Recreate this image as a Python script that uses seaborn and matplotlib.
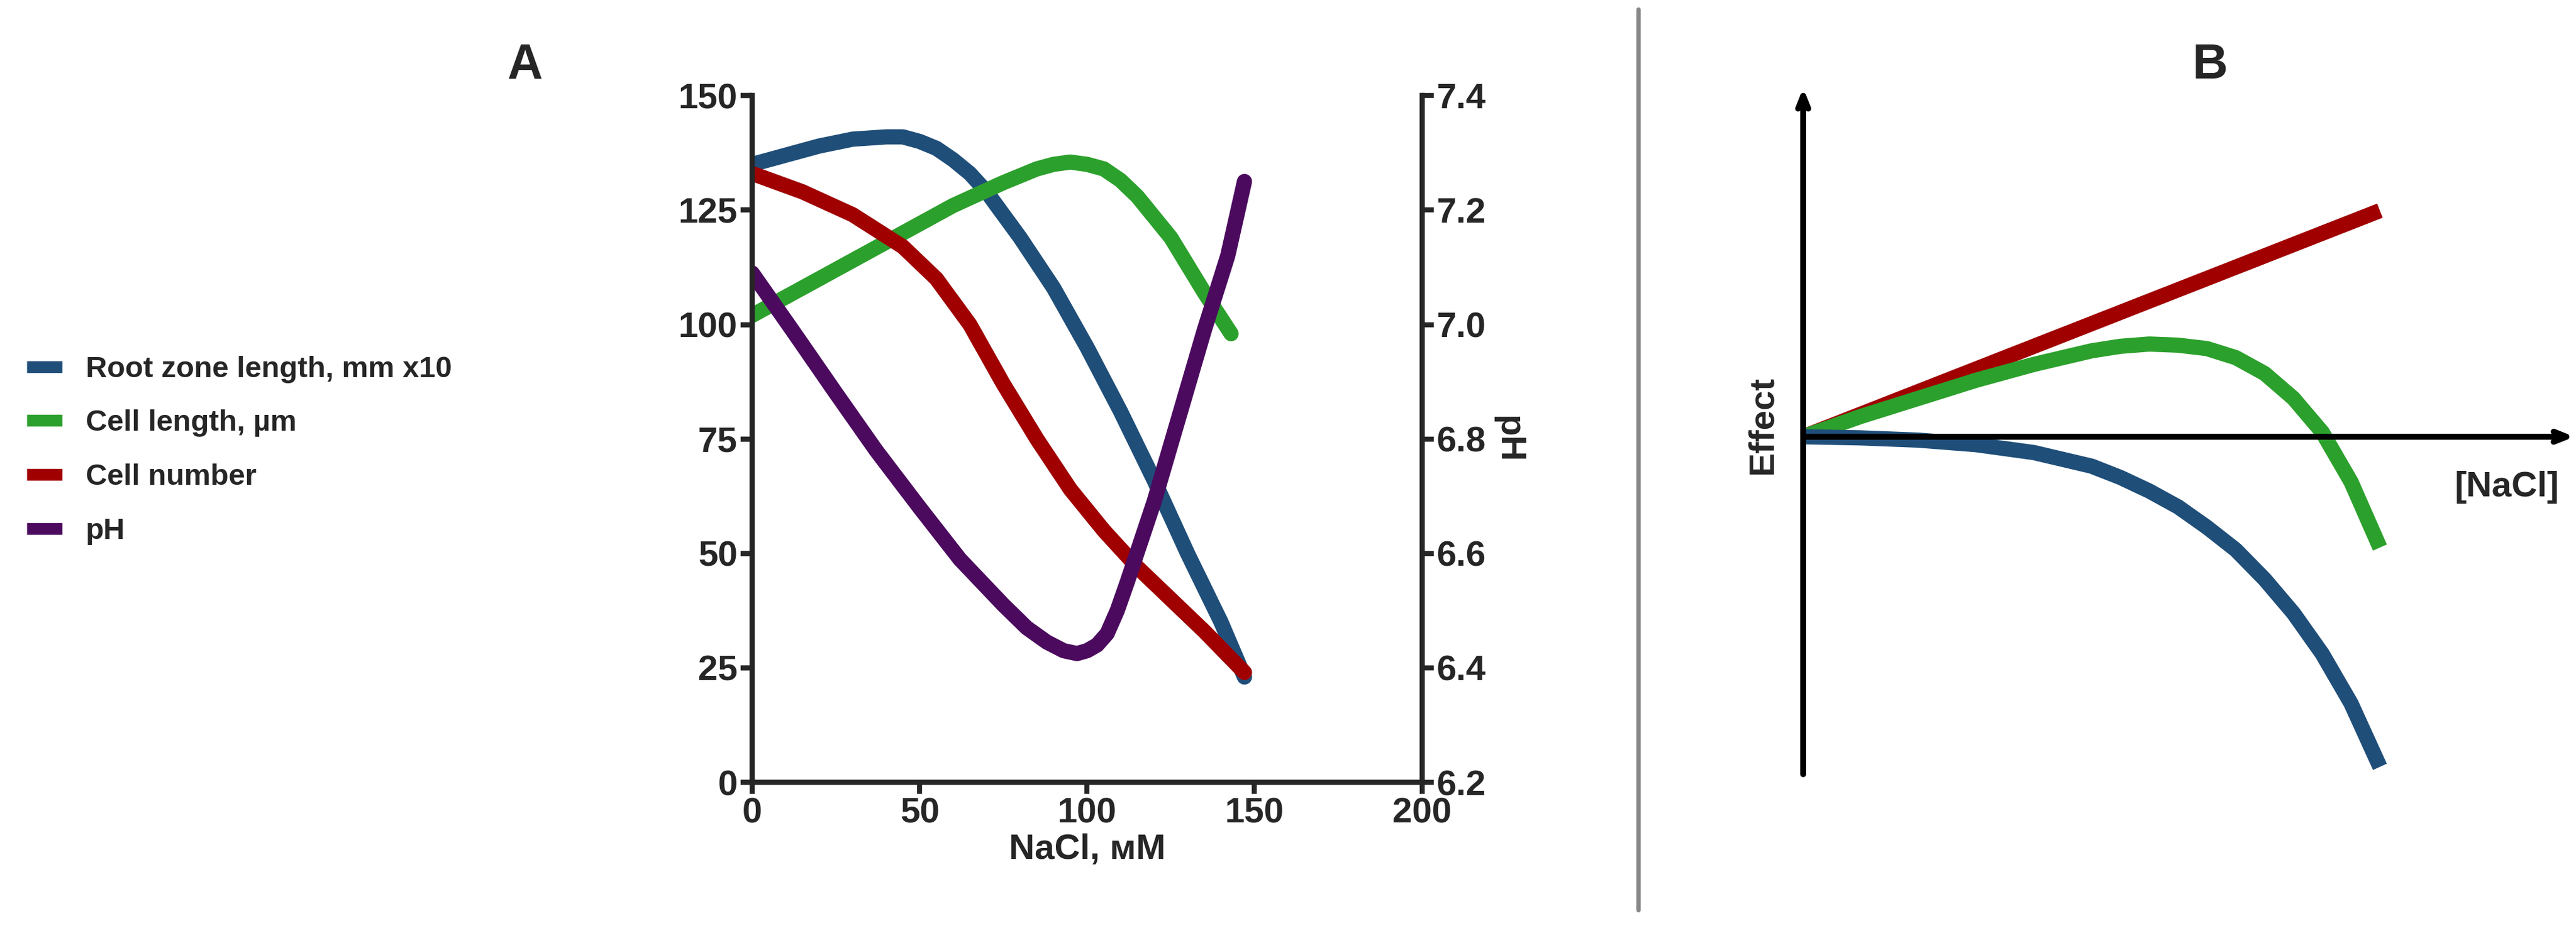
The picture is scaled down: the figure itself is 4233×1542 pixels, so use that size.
import numpy as np
import matplotlib
matplotlib.use("Agg")
import matplotlib.pyplot as plt
import seaborn as sns

sns.set_style("white")
plt.rcParams['font.family'] = ['Liberation Sans', 'DejaVu Sans']
plt.rcParams['font.weight'] = 'bold'

# Panel A data
root_x = [0, 10, 20, 30, 40, 45, 50, 55, 60, 65, 70, 80, 90, 100, 110, 120, 130, 140, 147]
root_y = [135, 137, 139, 140.5, 141, 141, 140, 138.5, 136, 133, 129, 119, 108, 95, 81, 66, 50, 35, 23]
cell_len_x = [0, 15, 30, 45, 60, 75, 85, 90, 95, 100, 105, 110, 115, 125, 135, 143]
cell_len_y = [102, 108, 114, 120, 126, 131, 134, 135, 135.5, 135, 134, 131.5, 128, 119, 107, 98]
cell_num_x = [0, 15, 30, 45, 55, 65, 75, 85, 95, 105, 115, 125, 135, 147]
cell_num_y = [133, 129, 124, 117, 110, 100, 87, 75, 64, 55, 47, 40, 33, 24]
ph_x = [0, 12, 25, 37, 50, 62, 75, 82, 88, 93, 97, 100, 103, 106, 109, 112, 116, 120, 128, 135, 142, 147]
ph_y = [7.09, 6.99, 6.88, 6.78, 6.68, 6.59, 6.51, 6.47, 6.445, 6.43, 6.425, 6.43, 6.44, 6.46, 6.5, 6.55, 6.62, 6.69, 6.85, 6.99, 7.12, 7.25]

x_ticks = [0, 50, 100, 150, 200]
y_ticks = [0, 25, 50, 75, 100, 125, 150]
ph_ticks = [6.2, 6.4, 6.6, 6.8, 7.0, 7.2, 7.4]

# Panel B data
b_x = [0, 0.1, 0.2, 0.3, 0.4, 0.5, 0.55, 0.6, 0.65, 0.7, 0.75, 0.8, 0.85, 0.9, 0.95, 1.0]
b_red = [0, 0.1, 0.2, 0.3, 0.4, 0.5, 0.55, 0.6, 0.65, 0.7, 0.75, 0.8, 0.85, 0.9, 0.95, 1.0]
b_green = [0, 0.09, 0.17, 0.25, 0.32, 0.38, 0.40, 0.41, 0.405, 0.39, 0.35, 0.28, 0.17, 0.02, -0.2, -0.49]
b_blue = [0, -0.005, -0.015, -0.035, -0.07, -0.13, -0.18, -0.24, -0.31, -0.40, -0.50, -0.63, -0.78, -0.96, -1.18, -1.46]

BLUE = '#1f4e79'; GREEN = '#2ca02c'; RED = '#a00000'; PURPLE = '#4b0a5e'
LW = 18

fig = plt.figure(figsize=(42.33, 15.42), dpi=100)
ax = fig.add_axes([0.292, 0.166, 0.26, 0.732])
ax2 = ax.twinx()
sns.lineplot(x=root_x, y=root_y, ax=ax, color=BLUE, lw=LW, label='Root zone length, mm x10', legend=False)
sns.lineplot(x=cell_len_x, y=cell_len_y, ax=ax, color=GREEN, lw=LW, label='Cell length, µm', legend=False)
sns.lineplot(x=cell_num_x, y=cell_num_y, ax=ax, color=RED, lw=LW, label='Cell number', legend=False)
sns.lineplot(x=ph_x, y=ph_y, ax=ax2, color=PURPLE, lw=LW, label='pH', legend=False)
for a in (ax, ax2):
    for l in a.lines:
        l.set_solid_capstyle('round'); l.set_solid_joinstyle('round')
ax.set_xlim(0, 200); ax.set_ylim(0, 150); ax2.set_ylim(6.2, 7.4)
ax.set_xticks(x_ticks); ax.set_yticks(y_ticks); ax2.set_yticks(ph_ticks)
ax2.set_yticklabels([f'{v:.1f}' for v in ph_ticks])
for a in (ax, ax2):
    for s in a.spines.values():
        s.set_linewidth(6)
    a.spines['top'].set_visible(False)
    a.tick_params(labelsize=42, width=6, length=14, direction='out', left=True, bottom=True)
ax2.tick_params(right=True)
ax.set_xlabel('NaCl, мМ', fontsize=42, fontweight='bold')
ax2.set_ylabel('pH', fontsize=42, fontweight='bold', rotation=270, labelpad=45)
fig.text(0.204, 0.93, 'A', fontsize=58, fontweight='bold', ha='center', va='center')

h1, l1 = ax.get_legend_handles_labels(); h2, l2 = ax2.get_legend_handles_labels()
leg = fig.legend(h1 + h2, l1 + l2, loc='center left', bbox_to_anchor=(0.0, 0.52), frameon=False,
                 handlelength=1.2, labelspacing=0.9, prop={'weight': 'bold', 'size': 35})
for line in leg.get_lines():
    line.set_linewidth(14); line.set_solid_capstyle('butt')

fig.add_artist(plt.Line2D([0.636, 0.636], [0.03, 0.99], color='#888888', lw=5, transform=fig.transFigure))

# Panel B
bx = fig.add_axes([0.7, 0.168, 0.3, 0.74])
bx.set_xlim(0, 1.34); bx.set_ylim(-1.52, 1.55)
bx.axis('off')
sns.lineplot(x=b_x, y=b_red, ax=bx, color=RED, lw=LW)
sns.lineplot(x=b_x, y=b_green, ax=bx, color=GREEN, lw=LW)
sns.lineplot(x=b_x, y=b_blue, ax=bx, color=BLUE, lw=LW)
for l in bx.lines:
    l.set_solid_capstyle('butt'); l.set_solid_joinstyle('round')
bx.annotate('', xy=(0, 1.55), xytext=(0, -1.5),
            arrowprops=dict(arrowstyle='->,head_length=1.5,head_width=0.6', lw=7, color='black'))
bx.annotate('', xy=(1.34, 0), xytext=(0, 0),
            arrowprops=dict(arrowstyle='->,head_length=1.5,head_width=0.6', lw=7, color='black'))
bx.text(-0.07, 0.05, 'Effect', rotation=90, fontsize=42, fontweight='bold', ha='center', va='center')
bx.text(1.22, -0.15, '[NaCl]', fontsize=42, fontweight='bold', ha='center', va='top')
fig.text(0.858, 0.93, 'B', fontsize=58, fontweight='bold', ha='center', va='center')

fig.savefig('out.png', dpi=100)
